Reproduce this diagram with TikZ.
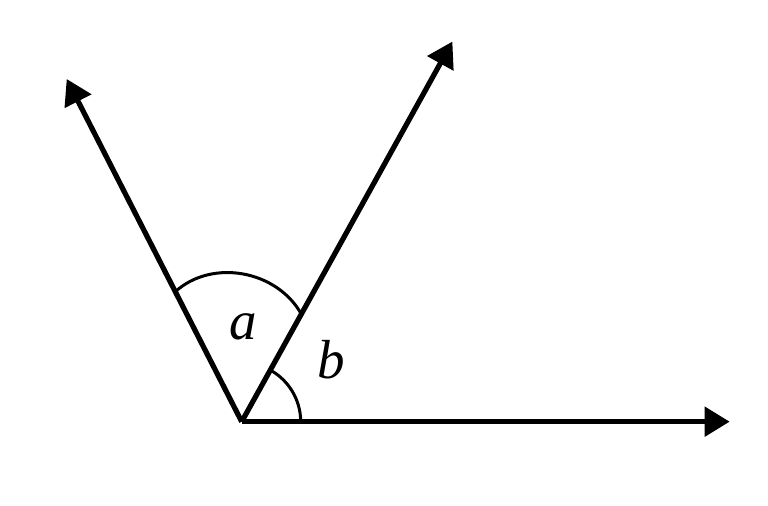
\documentclass[tikz,border=0pt]{standalone}
\usepackage{fontspec}
\setmainfont{Liberation Serif}
\usetikzlibrary{arrows.meta,positioning,calc}

\begin{document}
\begin{tikzpicture}[
    x=0.5pt, y=0.5pt,
    ray/.style={draw, line width=2.6pt, -{Triangle[length=12.5pt, width=14.5pt]}},
    angle/.style={draw, line width=1.5pt},
    label/.style={font=\fontsize{27.5}{30}\selectfont\itshape, inner sep=0pt}
]
\useasboundingbox (-241.7,-84.3) rectangle (526.3,421.7);

% Points
\coordinate (O) at (0,0);
\coordinate (R) at (488,0);
\coordinate (M) at (61:434.6);
\coordinate (L) at (117.05:384.8);

% Angle marks
\coordinate (aL) at (117.05:146);
\coordinate (aR) at (61:123);
\draw [angle] (aL) to[out=42, in=119] (aR);
\draw [angle] ($(O)+(59,0)$) arc[start angle=0, end angle=61, radius=59];

% Rays
\draw [ray] (O) -- (R);
\draw [ray] (O) -- (M);
\draw [ray] (O) -- (L);

% Labels
\node [label] (la) at (1.5,95) {a};
\node [label] (lb) at (90,62) {b};

\end{tikzpicture}
\end{document}
